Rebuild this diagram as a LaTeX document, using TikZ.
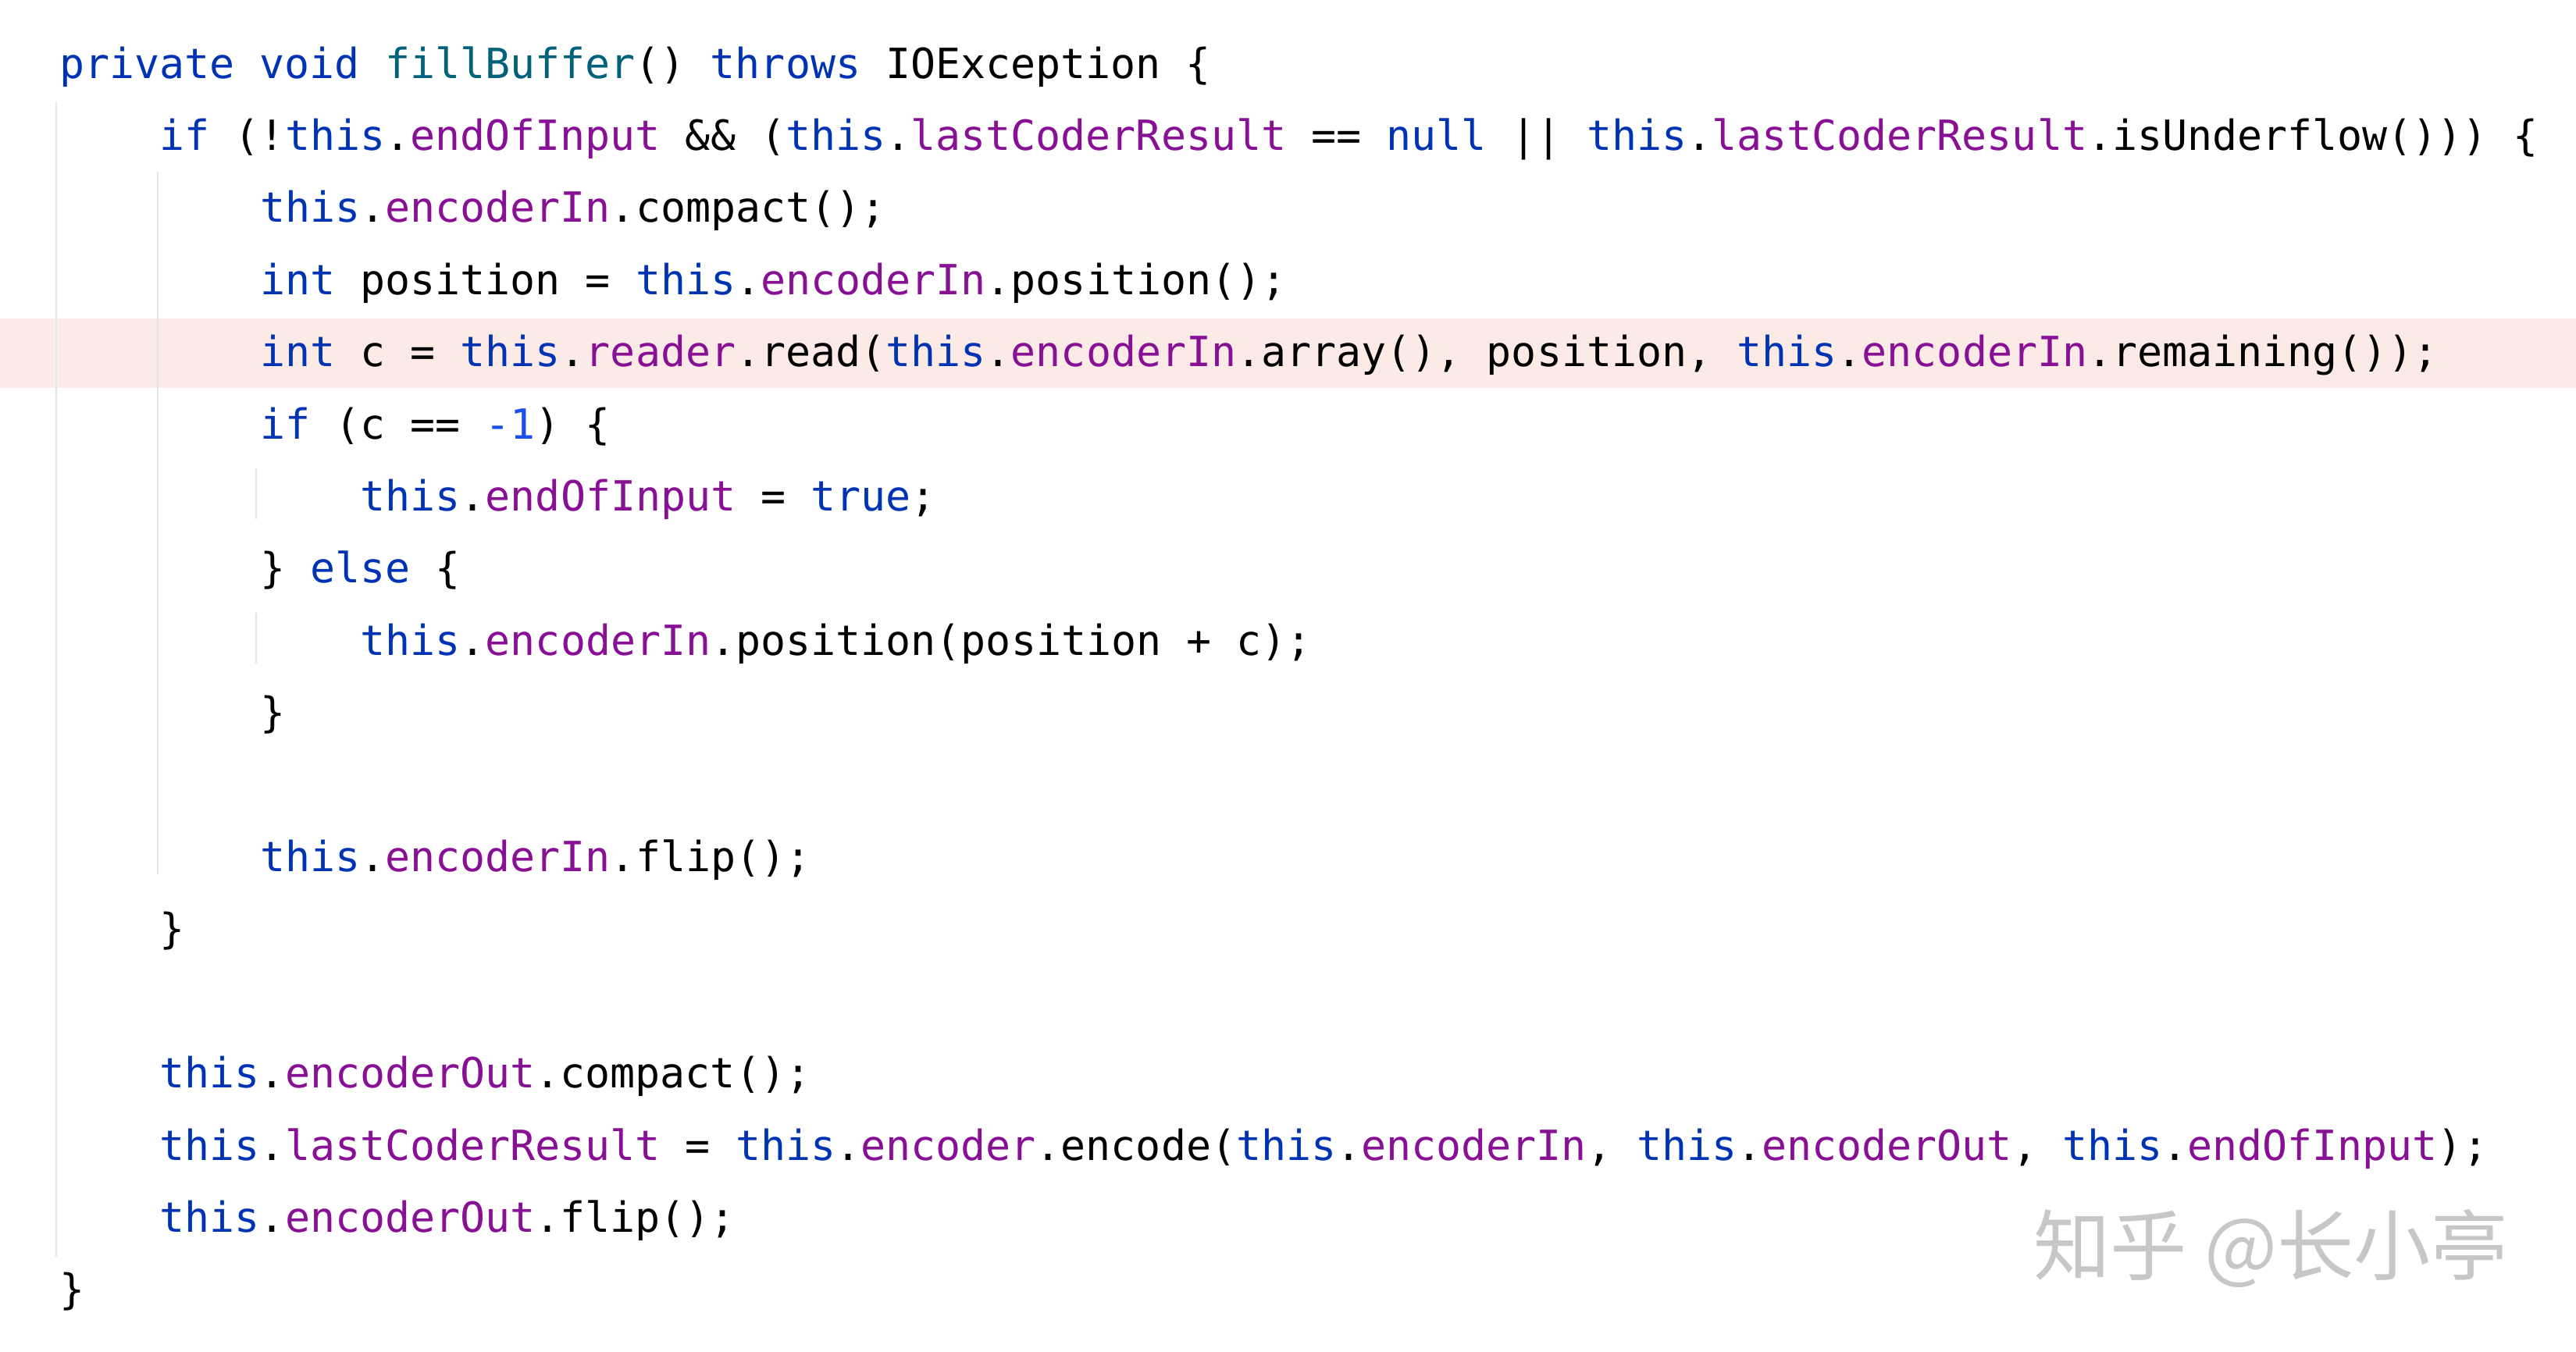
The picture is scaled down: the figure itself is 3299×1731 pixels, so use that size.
\documentclass[tikz,border=0pt]{standalone}
\usepackage{fontspec}
\newfontfamily\code{DejaVu Sans Mono}
\newfontfamily\cjk{Noto Sans CJK SC}
\definecolor{kw}{HTML}{0033B3}
\definecolor{fld}{HTML}{871094}
\definecolor{mth}{HTML}{00627A}
\definecolor{num}{HTML}{1750EB}
\definecolor{hl}{HTML}{FBEAE5}
\definecolor{guide}{HTML}{E2E4E8}
\newcommand\K[1]{\textcolor{kw}{#1}}
\newcommand\F[1]{\textcolor{fld}{#1}}
\newcommand\Mt[1]{\textcolor{mth}{#1}}
\newcommand\Nm[1]{\textcolor{num}{#1}}
\tikzset{codeline/.style={anchor=base west,inner sep=0pt,font=\code\fontsize{30.3}{31}\selectfont,text=black}}
\begin{document}
\begin{tikzpicture}[x=0.2mm,y=-0.2mm]
\fill[white] (0,0) rectangle (3299,1731);
\useasboundingbox (0,0) rectangle (3299,1731);
\fill[hl] (0,408) rectangle (3299,497);
\draw[guide,line width=0.8pt] (72,130) -- (72,1610);
\draw[guide,line width=0.8pt] (202,220) -- (202,1120);
\draw[guide,line width=0.8pt] (328,600) -- (328,665);
\draw[guide,line width=0.8pt] (328,785) -- (328,850);
\def\cw{32.1}
\node[codeline] (l1) at (76,{100+0*92.4}) {\K{private} \K{void} \Mt{fillBuffer}() \K{throws} IOException \{};
\node[codeline] (l2) at ({76+4*\cw},{100+1*92.4}) {\K{if} (!\K{this}.\F{endOfInput} \&\& (\K{this}.\F{lastCoderResult} == \K{null} || \K{this}.\F{lastCoderResult}.isUnderflow())) \{};
\node[codeline] (l3) at ({76+8*\cw},{100+2*92.4}) {\K{this}.\F{encoderIn}.compact();};
\node[codeline] (l4) at ({76+8*\cw},{100+3*92.4}) {\K{int} position = \K{this}.\F{encoderIn}.position();};
\node[codeline] (l5) at ({76+8*\cw},{100+4*92.4}) {\K{int} c = \K{this}.\F{reader}.read(\K{this}.\F{encoderIn}.array(), position, \K{this}.\F{encoderIn}.remaining());};
\node[codeline] (l6) at ({76+8*\cw},{100+5*92.4}) {\K{if} (c == \Nm{-1}) \{};
\node[codeline] (l7) at ({76+12*\cw},{100+6*92.4}) {\K{this}.\F{endOfInput} = \K{true};};
\node[codeline] (l8) at ({76+8*\cw},{100+7*92.4}) {\} \K{else} \{};
\node[codeline] (l9) at ({76+12*\cw},{100+8*92.4}) {\K{this}.\F{encoderIn}.position(position + c);};
\node[codeline] (l10) at ({76+8*\cw},{100+9*92.4}) {\}};
\node[codeline] (l12) at ({76+8*\cw},{100+11*92.4}) {\K{this}.\F{encoderIn}.flip();};
\node[codeline] (l13) at ({76+4*\cw},{100+12*92.4}) {\}};
\node[codeline] (l15) at ({76+4*\cw},{100+14*92.4}) {\K{this}.\F{encoderOut}.compact();};
\node[codeline] (l16) at ({76+4*\cw},{100+15*92.4}) {\K{this}.\F{lastCoderResult} = \K{this}.\F{encoder}.encode(\K{this}.\F{encoderIn}, \K{this}.\F{encoderOut}, \K{this}.\F{endOfInput});};
\node[codeline] (l17) at ({76+4*\cw},{100+16*92.4}) {\K{this}.\F{encoderOut}.flip();};
\node[codeline] (l18) at (76,{100+17*92.4}) {\}};
\node[anchor=center,inner sep=0pt,font=\cjk\fontsize{56}{58}\selectfont,text=black!22] (wm) at (2908,1599) {知乎 @长小亭};
\end{tikzpicture}
\end{document}
